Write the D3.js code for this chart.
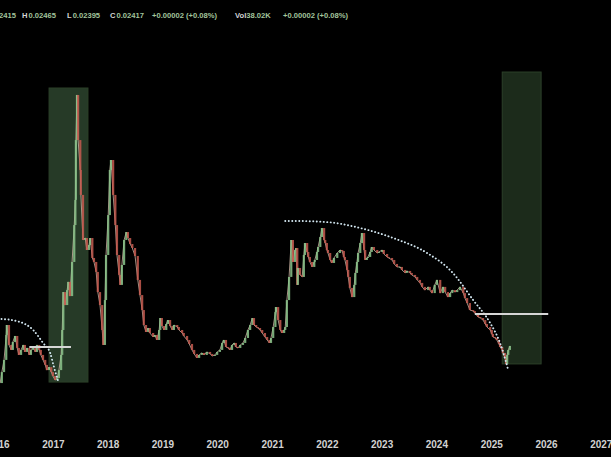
<!DOCTYPE html>
<html><head><meta charset="utf-8">
<script src="https://cdn.jsdelivr.net/npm/d3@7"></script>
<style>html,body{margin:0;padding:0;background:#000;overflow:hidden}</style>
</head><body>
<svg id="c" width="611" height="457"></svg>
<script>
// ---- data (decimal year, close) ----
const years = [
2016.04,2016.07,2016.11,2016.15,2016.16,2016.20,2016.24,2016.27,2016.31,2016.35,
2016.38,2016.42,2016.46,2016.49,2016.53,2016.57,2016.60,2016.64,2016.68,2016.71,
2016.75,2016.78,2016.82,2016.86,2016.89,2016.93,2016.97,2017.00,2017.04,2017.08,
2017.11,2017.15,2017.17,2017.19,2017.22,2017.26,2017.28,2017.31,2017.35,2017.39,
2017.41,2017.42,2017.44,2017.46,2017.50,2017.51,2017.55,2017.59,2017.62,2017.66,
2017.68,2017.72,2017.75,2017.79,2017.82,2017.86,2017.90,2017.92,2017.95,2017.97,
2018.01,2018.04,2018.06,2018.10,2018.14,2018.17,2018.21,2018.23,2018.26,2018.30,
2018.34,2018.37,2018.41,2018.45,2018.50,2018.55,2018.59,2018.63,2018.66,2018.70,
2018.74,2018.77,2018.83,2018.86,2018.90,2018.94,2018.96,2018.99,2019.03,2019.07,
2019.10,2019.14,2019.18,2019.21,2019.27,2019.30,2019.36,2019.39,2019.45,2019.49,
2019.54,2019.58,2019.63,2019.67,2019.72,2019.76,2019.81,2019.87,2019.91,2019.96,
2020.00,2020.05,2020.09,2020.12,2020.16,2020.20,2020.23,2020.27,2020.31,2020.34,
2020.38,2020.42,2020.47,2020.51,2020.56,2020.60,2020.64,2020.67,2020.71,2020.74,
2020.78,2020.82,2020.87,2020.91,2020.95,2020.98,2021.02,2021.06,2021.07,2021.11,
2021.15,2021.18,2021.22,2021.24,2021.27,2021.31,2021.35,2021.38,2021.42,2021.44,
2021.46,2021.47,2021.51,2021.55,2021.58,2021.60,2021.64,2021.66,2021.69,2021.73,
2021.77,2021.78,2021.82,2021.84,2021.88,2021.91,2021.95,2021.97,2022.00,2022.02,
2022.06,2022.09,2022.13,2022.19,2022.24,2022.28,2022.31,2022.33,2022.37,2022.39,
2022.42,2022.46,2022.50,2022.52,2022.55,2022.57,2022.61,2022.64,2022.68,2022.70,
2022.73,2022.75,2022.79,2022.82,2022.86,2022.92,2022.95,2023.01,2023.04,2023.10,
2023.13,2023.19,2023.23,2023.28,2023.34,2023.37,2023.43,2023.46,2023.52,2023.55,
2023.61,2023.65,2023.70,2023.74,2023.79,2023.85,2023.88,2023.92,2023.97,2024.01,
2024.07,2024.12,2024.16,2024.21,2024.25,2024.29,2024.34,2024.38,2024.43,2024.49,
2024.52,2024.56,2024.61,2024.67,2024.70,2024.76,2024.80,2024.85,2024.89,2024.92,
2024.98,2025.01,2025.03,2025.07,2025.10,2025.14,2025.16,2025.20,2025.21,2025.25,
2025.27,2025.29,2025.31,2025.34
];
const closes = [
0.0110,0.0165,0.0226,0.0351,0.0401,0.0301,0.0276,0.0316,0.0346,0.0286,
0.0251,0.0276,0.0301,0.0266,0.0286,0.0251,0.0276,0.0291,0.0266,0.0301,
0.0276,0.0251,0.0226,0.0201,0.0175,0.0190,0.0165,0.0145,0.0125,0.0135,
0.0175,0.0251,0.0376,0.0566,0.0501,0.0576,0.0617,0.0546,0.0717,0.0902,
0.1028,0.1328,0.1554,0.1328,0.1178,0.1053,0.0827,0.0837,0.0777,0.0802,
0.0837,0.0737,0.0717,0.0667,0.0566,0.0501,0.0376,0.0301,0.0526,0.0752,
0.0952,0.1178,0.1228,0.1053,0.0902,0.0752,0.0652,0.0602,0.0702,0.0827,
0.0867,0.0837,0.0807,0.0787,0.0747,0.0627,0.0551,0.0476,0.0401,0.0366,
0.0386,0.0361,0.0341,0.0351,0.0326,0.0376,0.0436,0.0396,0.0376,0.0406,
0.0426,0.0396,0.0376,0.0401,0.0391,0.0376,0.0361,0.0346,0.0326,0.0306,
0.0276,0.0256,0.0236,0.0251,0.0261,0.0251,0.0266,0.0256,0.0246,0.0251,
0.0266,0.0276,0.0311,0.0326,0.0291,0.0286,0.0276,0.0301,0.0311,0.0291,
0.0286,0.0301,0.0311,0.0336,0.0376,0.0401,0.0436,0.0401,0.0391,0.0386,
0.0376,0.0361,0.0341,0.0326,0.0311,0.0336,0.0391,0.0466,0.0491,0.0426,
0.0376,0.0361,0.0376,0.0391,0.0526,0.0642,0.0827,0.0717,0.0777,0.0787,
0.0602,0.0687,0.0652,0.0642,0.0752,0.0812,0.0767,0.0742,0.0717,0.0692,
0.0717,0.0727,0.0767,0.0792,0.0842,0.0887,0.0827,0.0812,0.0777,0.0762,
0.0727,0.0712,0.0737,0.0762,0.0777,0.0772,0.0742,0.0727,0.0677,0.0642,
0.0587,0.0541,0.0602,0.0662,0.0717,0.0762,0.0812,0.0862,0.0777,0.0727,
0.0737,0.0742,0.0767,0.0792,0.0777,0.0762,0.0767,0.0777,0.0757,0.0742,
0.0737,0.0727,0.0707,0.0692,0.0692,0.0677,0.0662,0.0672,0.0662,0.0652,
0.0642,0.0627,0.0612,0.0592,0.0576,0.0592,0.0576,0.0561,0.0602,0.0627,
0.0561,0.0592,0.0566,0.0541,0.0561,0.0576,0.0566,0.0576,0.0592,0.0561,
0.0536,0.0511,0.0476,0.0471,0.0461,0.0441,0.0436,0.0426,0.0406,0.0391,
0.0376,0.0356,0.0341,0.0336,0.0326,0.0306,0.0291,0.0276,0.0261,0.0236,
0.0206,0.0251,0.0276,0.0296
];
// dotted rounding-top arcs
const arc1Years = [2016.00,2016.04,2016.40,2016.64,2016.82,2016.95,2017.02,2017.10];
const arc1Vals  = [0.0431,0.0431,0.0416,0.0376,0.0311,0.0261,0.0190,0.0115];
const arc2Years = [2021.24,2021.51,2022.00,2022.61,2023.21,2023.83,2024.30,2024.67,2024.98,2025.16,2025.31];
const arc2Vals  = [0.0922,0.0922,0.0917,0.0887,0.0837,0.0762,0.0662,0.0526,0.0411,0.0311,0.0175];
// highlighted windows
const zoneStart = [2016.93, 2025.20];
const zoneEnd   = [2017.64, 2025.91];
const zoneLow   = [0.0115, 0.0206];
const zoneHigh  = [0.1589, 0.1669];
// horizontal levels
const levelStart = [2016.57, 2024.70];
const levelEnd   = [2017.33, 2026.04];
const levelVal   = [0.0291, 0.0456];
// axis ticks
const tickYears = [2016,2017,2018,2019,2020,2021,2022,2023,2024,2025,2026,2027];
// header
const hdrLabels = ["O","H","L","C"];
const hdrValues = ["0.02415","0.02465","0.02395","0.02417"];
const hdrChange = "+0.00002 (+0.08%)";
const hdrVol = "38.02K";

// ---- drawing ----
const W = 611, H = 457;
const FONT = "Liberation Sans, Arial, sans-serif";
const toDate = t => { const y = Math.floor(t); const a = Date.UTC(y,0,1), b = Date.UTC(y+1,0,1); return new Date(a + (t-y)*(b-a)); };
const x = d3.scaleUtc().domain([new Date(Date.UTC(2016,0,1)), new Date(Date.UTC(2027,0,1))]).range([-2, 600.8]);
const y = d3.scaleLinear().domain([0, 0.2]).range([405, 6]);
const svg = d3.select("#c");
svg.append("rect").attr("width",W).attr("height",H).attr("fill","#000");

const zoneFill = ["#263a27","#1c2b1b"];
svg.append("g").selectAll("rect").data(zoneStart).join("rect")
  .attr("x",(d,i)=>x(toDate(d)))
  .attr("width",(d,i)=>x(toDate(zoneEnd[i]))-x(toDate(d)))
  .attr("y",(d,i)=>y(zoneHigh[i]))
  .attr("height",(d,i)=>y(zoneLow[i])-y(zoneHigh[i]))
  .attr("fill",(d,i)=>zoneFill[i])
  .attr("stroke","#2c4029").attr("stroke-width",1);

const pts = years.map((t,i)=>({d:toDate(t), v:closes[i]}));
svg.append("path").datum(pts)
  .attr("d", d3.line().x(p=>x(p.d)).y(p=>y(p.v)))
  .attr("fill","none").attr("stroke","#ccb3a3").attr("stroke-width",1).attr("opacity",0.8);
const candles = pts.slice(1).map((p,i)=>({d:p.d, o:pts[i].v, c:p.v}));
svg.append("g").selectAll("rect").data(candles).join("rect")
  .attr("x",c=>x(c.d)-1.1).attr("width",2.2)
  .attr("y",c=>y(Math.max(c.o,c.c)))
  .attr("height",c=>Math.max(1, Math.abs(y(c.o)-y(c.c))))
  .attr("fill",c=>c.c>=c.o?"#8cc68c":"#c75a50")
  .attr("opacity",0.85);

// dotted arcs
const arcLine = d3.line().curve(d3.curveMonotoneX).x(p=>x(p.d)).y(p=>y(p.v));
[[arc1Years,arc1Vals],[arc2Years,arc2Vals]].forEach(([ty,tv])=>{
  svg.append("path").datum(ty.map((t,i)=>({d:toDate(t), v:tv[i]})))
    .attr("d",arcLine).attr("fill","none")
    .attr("stroke","#d2e6f0").attr("stroke-width",1.9)
    .attr("stroke-linecap","round").attr("stroke-dasharray","0.1,3.4");
});

// horizontal levels
svg.append("g").selectAll("line").data(levelStart).join("line")
  .attr("x1",d=>x(toDate(d))).attr("x2",(d,i)=>x(toDate(levelEnd[i])))
  .attr("y1",(d,i)=>y(levelVal[i])).attr("y2",(d,i)=>y(levelVal[i]))
  .attr("stroke","#d6d6d6").attr("stroke-width",2);

// x axis
const ax = svg.append("g").attr("transform","translate(0,437)")
  .call(d3.axisBottom(x).tickValues(tickYears.map(t=>toDate(t))).tickFormat(d3.utcFormat("%Y")).tickSize(0).tickPadding(4));
ax.select(".domain").remove();
ax.selectAll("text").attr("fill","#d2d2d2").attr("font-family",FONT)
  .attr("font-size",10).attr("font-weight","bold");

// header (label + value groups at the reference's positions)
const lab = "#d4d4d4", val = "#a2c49c";
const hdr = svg.append("g").attr("font-family",FONT).attr("font-size",7.6).attr("font-weight","bold");
const groupX = [16, 22, 67, 110];
hdrLabels.forEach((l,i)=>{
  const t = hdr.append("text").attr("x",groupX[i]).attr("y",18).attr("text-anchor", i===0?"end":"start");
  t.append("tspan").attr("fill",lab).text(l);
  t.append("tspan").attr("fill",val).attr("dx",1).text(hdrValues[i]);
});
hdr.append("text").attr("x",152).attr("y",18).attr("fill",val).text(hdrChange);
const vt = hdr.append("text").attr("x",235).attr("y",18);
vt.append("tspan").attr("fill",lab).text("Vol");
vt.append("tspan").attr("fill",val).text(hdrVol);
hdr.append("text").attr("x",283).attr("y",18).attr("fill",val).text(hdrChange);
</script>
</body></html>
